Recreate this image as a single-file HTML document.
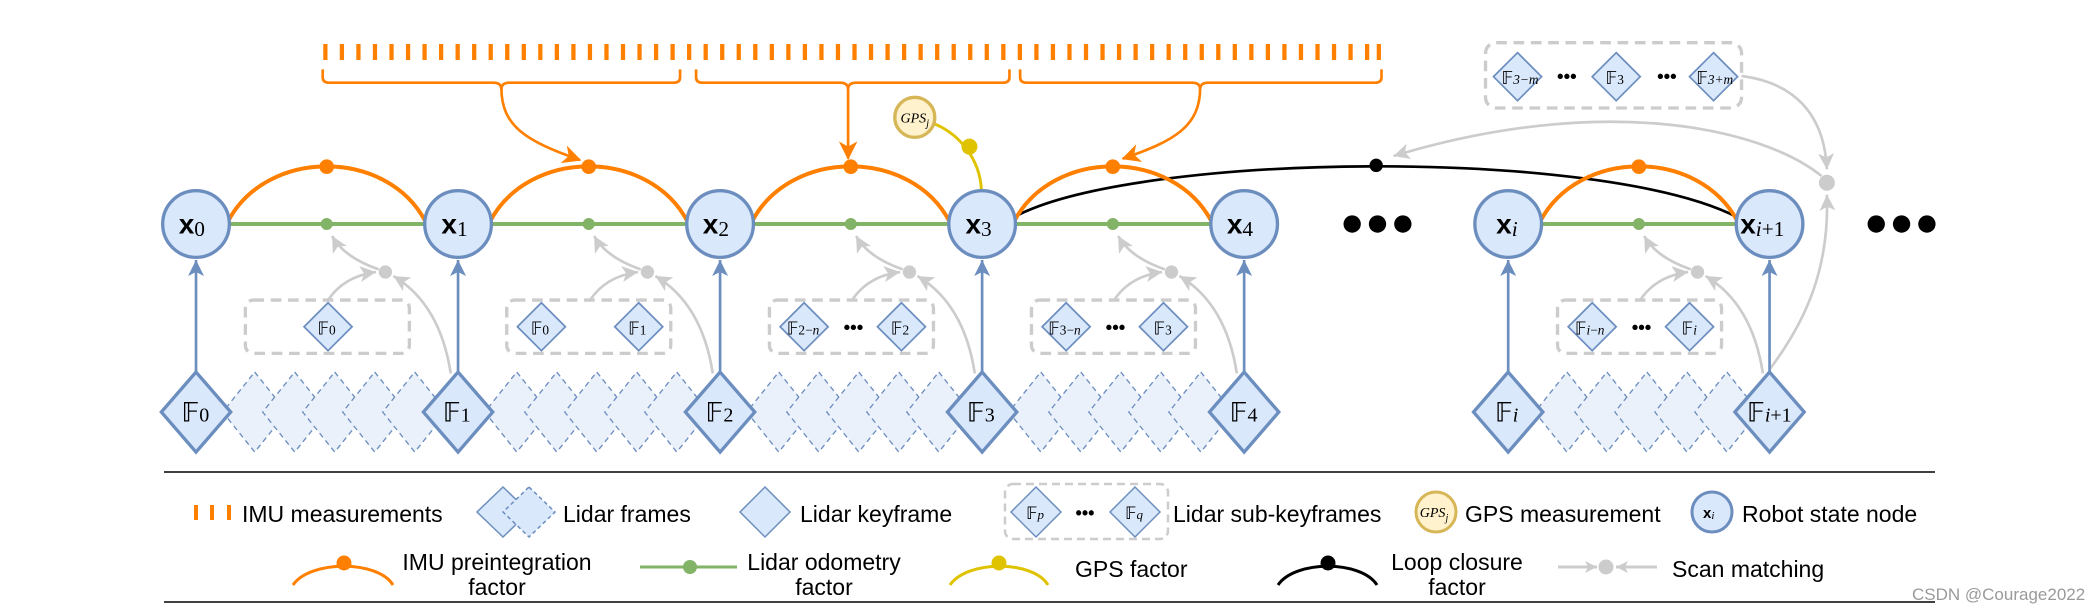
<!DOCTYPE html>
<html><head><meta charset="utf-8"><style>
html,body{margin:0;padding:0;background:#fff;}
svg{display:block;}
text{font-family:"Liberation Sans","DejaVu Sans",sans-serif;}
.ser{font-family:"Liberation Serif","DejaVu Serif",serif;}
.ds{font-family:"DejaVu Sans","Liberation Serif",serif;}
</style></head><body>
<svg width="2091" height="614" viewBox="0 0 2091 614" xmlns="http://www.w3.org/2000/svg">
<defs>
<marker id="ao" markerUnits="userSpaceOnUse" markerWidth="16" markerHeight="14" refX="13" refY="7" orient="auto"><path d="M0,0 L14,7 L0,14 L4,7 Z" fill="#ff8000"/></marker>
<marker id="ab" markerUnits="userSpaceOnUse" markerWidth="14" markerHeight="14" refX="12" refY="6" orient="auto"><path d="M0,0 L12,6 L0,12 L3,6 Z" fill="#6c8ebf"/></marker>
<marker id="ag" markerUnits="userSpaceOnUse" markerWidth="14" markerHeight="14" refX="12" refY="6" orient="auto"><path d="M0,0 L12,6 L0,12 L3,6 Z" fill="#cccccc"/></marker>
<g id="sd"><path d="M0,-30 L24,0 L0,30 L-24,0 Z" fill="#ebf1fb" stroke="#6c8ebf" stroke-width="1" stroke-dasharray="4,3"/></g>
<g id="bd"><path d="M0,-30 L26,0 L0,30 L-26,0 Z" fill="#dae8fc" stroke="#6c8ebf" stroke-width="2.5"/></g>
<g id="sm"><path d="M0,-18 L18,0 L0,18 L-18,0 Z" fill="#dae8fc" stroke="#6c8ebf" stroke-width="1.3"/></g>
</defs>

<g transform="scale(1.3335)">
<!-- IMU ticks -->
<g stroke="#ff8000" stroke-width="3.2">
<path d="M244,33V45 M256.4,33V45 M268.8,33V45 M281.2,33V45 M293.6,33V45 M306,33V45 M318.4,33V45 M330.8,33V45 M343.2,33V45 M355.6,33V45 M368,33V45 M380.4,33V45 M392.8,33V45 M405.2,33V45 M417.6,33V45 M430,33V45 M442.4,33V45 M454.8,33V45 M467.2,33V45 M479.6,33V45 M492,33V45 M504.4,33V45 M516.8,33V45 M529.2,33V45 M541.6,33V45 M554,33V45 M566.4,33V45 M578.8,33V45 M591.2,33V45 M603.6,33V45 M616,33V45 M628.4,33V45 M640.8,33V45 M653.2,33V45 M665.6,33V45 M678,33V45 M690.4,33V45 M702.8,33V45 M715.2,33V45 M727.6,33V45 M740,33V45 M752.4,33V45 M764.8,33V45 M777.2,33V45 M789.6,33V45 M802,33V45 M814.4,33V45 M826.8,33V45 M839.2,33V45 M851.6,33V45 M864,33V45 M876.4,33V45 M888.8,33V45 M901.2,33V45 M913.6,33V45 M926,33V45 M938.4,33V45 M950.8,33V45 M963.2,33V45 M975.6,33V45 M988,33V45 M1000.4,33V45 M1012.8,33V45 M1025.2,33V45 M1034,33V45"/>
</g>
<!-- braces -->
<g fill="none" stroke="#ff8000" stroke-width="2">
<path d="M242,52 V58 Q242,62 247,62 H370 Q376,62 376,67 Q376,62 382,62 H505 Q510,62 510,58 V52"/>
<path d="M522,52 V58 Q522,62 527,62 H630 Q636,62 636,67 Q636,62 642,62 H752 Q757,62 757,58 V52"/>
<path d="M765,52 V58 Q765,62 770,62 H894 Q900,62 900,67 Q900,62 906,62 H1031 Q1036,62 1036,58 V52"/>
<path d="M376,66 C376,95 395,106 435,120" marker-end="url(#ao)"/>
<path d="M636,66 V119" marker-end="url(#ao)"/>
<path d="M900,66 C900,95 880,106 842,119" marker-end="url(#ao)"/>
</g>

<!-- top sub-keyframe box -->
<rect x="1114" y="32" width="192" height="49" rx="8" fill="none" stroke="#cccccc" stroke-width="2.5" stroke-dasharray="8,5"/>
<use href="#sm" x="1138" y="57.5"/><use href="#sm" x="1212" y="57.5"/><use href="#sm" x="1285" y="57.5"/>
<text x="1175" y="62" font-size="14" text-anchor="middle" font-weight="bold">•••</text>
<text x="1250" y="62" font-size="14" text-anchor="middle" font-weight="bold">•••</text>
<text class="ds" x="1126" y="63" font-size="13">𝔽<tspan class="ser" font-style="italic" font-size="10">3−m</tspan></text>
<text class="ds" x="1204" y="63" font-size="13">𝔽<tspan class="ser" font-size="10">3</tspan></text>
<text class="ds" x="1272" y="63" font-size="13">𝔽<tspan class="ser" font-style="italic" font-size="10">3+m</tspan></text>

<!-- grey loop scan matching -->
<g fill="none" stroke="#cccccc" stroke-width="2">
<path d="M1306,57 C1345,62 1368,85 1370,127" marker-end="url(#ag)"/>
<path d="M1327,277 C1355,240 1372,200 1370,146" marker-end="url(#ag)"/>
<path d="M1366,132 C1320,95 1200,70 1045,117" marker-end="url(#ag)"/>
</g>
<circle cx="1370" cy="137" r="6" fill="#cccccc"/>

<!-- light dashed diamonds -->
<g>
<use href="#sd" x="191" y="309"/><use href="#sd" x="221" y="309"/><use href="#sd" x="251" y="309"/><use href="#sd" x="281" y="309"/><use href="#sd" x="311" y="309"/>
<use href="#sd" x="387.5" y="309"/><use href="#sd" x="417.5" y="309"/><use href="#sd" x="447.5" y="309"/><use href="#sd" x="477.5" y="309"/><use href="#sd" x="507.5" y="309"/>
<use href="#sd" x="584" y="309"/><use href="#sd" x="614" y="309"/><use href="#sd" x="644" y="309"/><use href="#sd" x="674" y="309"/><use href="#sd" x="704" y="309"/>
<use href="#sd" x="780.5" y="309"/><use href="#sd" x="810.5" y="309"/><use href="#sd" x="840.5" y="309"/><use href="#sd" x="870.5" y="309"/><use href="#sd" x="900.5" y="309"/>
<use href="#sd" x="1175" y="309"/><use href="#sd" x="1205" y="309"/><use href="#sd" x="1235" y="309"/><use href="#sd" x="1265" y="309"/><use href="#sd" x="1295" y="309"/>
</g>

<!-- scan matching segments -->
<g id="seg0">
<rect x="184" y="225" width="123" height="40" rx="6" fill="none" stroke="#cccccc" stroke-width="2.5" stroke-dasharray="8,5"/>
</g>
<rect x="380" y="225" width="123" height="40" rx="6" fill="none" stroke="#cccccc" stroke-width="2.5" stroke-dasharray="8,5"/>
<rect x="577" y="225" width="123" height="40" rx="6" fill="none" stroke="#cccccc" stroke-width="2.5" stroke-dasharray="8,5"/>
<rect x="773.5" y="225" width="123" height="40" rx="6" fill="none" stroke="#cccccc" stroke-width="2.5" stroke-dasharray="8,5"/>
<rect x="1168" y="225" width="123" height="40" rx="6" fill="none" stroke="#cccccc" stroke-width="2.5" stroke-dasharray="8,5"/>

<g fill="none" stroke="#cccccc" stroke-width="2">
<path d="M284,202 Q258,193 249,177" marker-end="url(#ag)"/>
<path d="M246,225 Q258,207 282,204" marker-end="url(#ag)"/>
<path d="M338,280 Q330,228 295,207" marker-end="url(#ag)"/>
<path d="M480.5,202 Q454.5,193 445.5,177" marker-end="url(#ag)"/>
<path d="M442.5,225 Q454.5,207 478.5,204" marker-end="url(#ag)"/>
<path d="M534.5,280 Q526.5,228 491.5,207" marker-end="url(#ag)"/>
<path d="M677,202 Q651,193 642,177" marker-end="url(#ag)"/>
<path d="M639,225 Q651,207 675,204" marker-end="url(#ag)"/>
<path d="M731,280 Q723,228 688,207" marker-end="url(#ag)"/>
<path d="M873.5,202 Q847.5,193 838.5,177" marker-end="url(#ag)"/>
<path d="M835.5,225 Q847.5,207 871.5,204" marker-end="url(#ag)"/>
<path d="M927.5,280 Q919.5,228 884.5,207" marker-end="url(#ag)"/>
<path d="M1268,202 Q1242,193 1233,177" marker-end="url(#ag)"/>
<path d="M1230,225 Q1242,207 1266,204" marker-end="url(#ag)"/>
<path d="M1322,280 Q1314,228 1279,207" marker-end="url(#ag)"/>
</g>
<g fill="#cccccc">
<circle cx="289" cy="204" r="5"/><circle cx="485.5" cy="204" r="5"/><circle cx="682" cy="204" r="5"/><circle cx="878.5" cy="204" r="5"/><circle cx="1273" cy="204" r="5"/>
</g>

<!-- small diamonds in boxes -->
<use href="#sm" x="246" y="245"/>
<use href="#sm" x="406" y="245"/><use href="#sm" x="479" y="245"/>
<use href="#sm" x="603" y="245"/><use href="#sm" x="676" y="245"/>
<use href="#sm" x="799.5" y="245"/><use href="#sm" x="872.5" y="245"/>
<use href="#sm" x="1194" y="245"/><use href="#sm" x="1267" y="245"/>
<g font-size="14" font-weight="bold" text-anchor="middle">
<text x="640" y="250">•••</text><text x="836.5" y="250">•••</text><text x="1231" y="250">•••</text>
</g>
<g class="ds" font-size="13">
<text x="238" y="251">𝔽<tspan class="ser" font-size="10">0</tspan></text>
<text x="398" y="251">𝔽<tspan class="ser" font-size="10">0</tspan></text>
<text x="471" y="251">𝔽<tspan class="ser" font-size="10">1</tspan></text>
<text x="590" y="251">𝔽<tspan class="ser" font-size="10">2−<tspan font-style="italic">n</tspan></tspan></text>
<text x="668" y="251">𝔽<tspan class="ser" font-size="10">2</tspan></text>
<text x="786" y="251">𝔽<tspan class="ser" font-size="10">3−<tspan font-style="italic">n</tspan></tspan></text>
<text x="865" y="251">𝔽<tspan class="ser" font-size="10">3</tspan></text>
<text x="1181" y="251">𝔽<tspan class="ser" font-size="10"><tspan font-style="italic">i</tspan>−<tspan font-style="italic">n</tspan></tspan></text>
<text x="1261" y="251">𝔽<tspan class="ser" font-style="italic" font-size="10">i</tspan></text>
</g>

<!-- blue arrows -->
<g stroke="#6c8ebf" stroke-width="2" fill="none">
<path d="M147,279 V195" marker-end="url(#ab)"/>
<path d="M343.5,279 V195" marker-end="url(#ab)"/>
<path d="M540,279 V195" marker-end="url(#ab)"/>
<path d="M736.5,279 V195" marker-end="url(#ab)"/>
<path d="M933,279 V195" marker-end="url(#ab)"/>
<path d="M1131,279 V195" marker-end="url(#ab)"/>
<path d="M1327,279 V195" marker-end="url(#ab)"/>
</g>

<!-- big diamonds -->
<use href="#bd" x="147" y="309"/><use href="#bd" x="343.5" y="309"/><use href="#bd" x="540" y="309"/><use href="#bd" x="736.5" y="309"/><use href="#bd" x="933" y="309"/><use href="#bd" x="1131" y="309"/><use href="#bd" x="1327" y="309"/>
<g class="ds" font-size="20">
<text x="136" y="316">𝔽<tspan class="ser" font-size="15">0</tspan></text>
<text x="332" y="316">𝔽<tspan class="ser" font-size="15">1</tspan></text>
<text x="529" y="316">𝔽<tspan class="ser" font-size="15">2</tspan></text>
<text x="725" y="316">𝔽<tspan class="ser" font-size="15">3</tspan></text>
<text x="922" y="316">𝔽<tspan class="ser" font-size="15">4</tspan></text>
<text x="1121" y="316">𝔽<tspan class="ser" font-style="italic" font-size="15">i</tspan></text>
<text x="1310" y="316">𝔽<tspan class="ser" font-size="15"><tspan font-style="italic">i</tspan>+1</tspan></text>
</g>

<!-- green odometry -->
<g stroke="#82b366" stroke-width="3">
<path d="M172,168 H909"/><path d="M1156,168 H1302"/>
</g>
<g fill="#82b366">
<circle cx="245" cy="168" r="4.5"/><circle cx="441.5" cy="168" r="4.5"/><circle cx="638" cy="168" r="4.5"/><circle cx="834.5" cy="168" r="4.5"/><circle cx="1229" cy="168" r="4.5"/>
</g>

<!-- black loop closure -->
<path d="M760,163 C850,114 1200,110 1303,163" fill="none" stroke="#000" stroke-width="2"/>
<circle cx="1032" cy="124" r="5" fill="#000"/>

<!-- orange arcs -->
<g fill="none" stroke="#ff8000" stroke-width="3">
<path d="M171,166 C200,111 290,111 319,166"/>
<path d="M367.5,166 C396.5,111 486.5,111 515.5,166"/>
<path d="M564,166 C593,111 683,111 712,166"/>
<path d="M760.5,166 C789.5,111 879.5,111 908.5,166"/>
<path d="M1155,166 C1184,111 1274,111 1303,166"/>
</g>
<g fill="#ff8000">
<circle cx="245" cy="125" r="5.5"/><circle cx="441.5" cy="125" r="5.5"/><circle cx="638" cy="125" r="5.5"/><circle cx="834.5" cy="125" r="5.5"/><circle cx="1229" cy="125" r="5.5"/>
</g>

<!-- GPS -->
<path d="M701,93 C718,100 735,118 736,143" fill="none" stroke="#e0c300" stroke-width="2.2"/>
<circle cx="727" cy="110" r="6" fill="#e0c300"/>
<circle cx="686" cy="88" r="15" fill="#fff2cc" stroke="#d6b656" stroke-width="2.5"/>
<text class="ser" x="686" y="92" font-size="10.5" font-style="italic" text-anchor="middle">GPS<tspan font-size="8" dy="3">j</tspan></text>

<!-- nodes -->
<g fill="#dae8fc" stroke="#6c8ebf" stroke-width="2.5">
<circle cx="147" cy="168" r="25"/><circle cx="343.5" cy="168" r="25"/><circle cx="540" cy="168" r="25"/><circle cx="736.5" cy="168" r="25"/><circle cx="933" cy="168" r="25"/><circle cx="1131" cy="168" r="25"/><circle cx="1327" cy="168" r="25"/>
</g>
<g font-size="21" font-weight="bold">
<text x="134" y="175">x<tspan class="ser" font-weight="normal" font-size="16" dy="2">0</tspan></text>
<text x="331" y="175">x<tspan class="ser" font-weight="normal" font-size="16" dy="2">1</tspan></text>
<text x="527" y="175">x<tspan class="ser" font-weight="normal" font-size="16" dy="2">2</tspan></text>
<text x="724" y="175">x<tspan class="ser" font-weight="normal" font-size="16" dy="2">3</tspan></text>
<text x="920" y="175">x<tspan class="ser" font-weight="normal" font-size="16" dy="2">4</tspan></text>
<text x="1122" y="175">x<tspan class="ser" font-weight="normal" font-style="italic" font-size="16" dy="2">i</tspan></text>
<text x="1305" y="175">x<tspan class="ser" font-weight="normal" font-size="16" dy="2"><tspan font-style="italic">i</tspan>+1</tspan></text>
</g>
<g fill="#000">
<circle cx="1014" cy="168" r="6.5"/><circle cx="1033" cy="168" r="6.5"/><circle cx="1052" cy="168" r="6.5"/>
<circle cx="1407" cy="168" r="6.5"/><circle cx="1426" cy="168" r="6.5"/><circle cx="1445" cy="168" r="6.5"/>
</g>
</g>

<!-- Legend (original px) -->
<path d="M164,472 H1935 M164,602 H1935" stroke="#000" stroke-width="1.5"/>
<g stroke="#ff8000" stroke-width="4"><path d="M196,505V520 M212,505V520 M229,505V520"/></g>
<g font-size="23" fill="#000">
<text x="242" y="522">IMU measurements</text>
<text x="563" y="522">Lidar frames</text>
<text x="800" y="522">Lidar keyframe</text>
<text x="1173" y="522">Lidar sub-keyframes</text>
<text x="1465" y="522">GPS measurement</text>
<text x="1742" y="522">Robot state node</text>
<text x="497" y="570" text-anchor="middle">IMU preintegration</text>
<text x="497" y="595" text-anchor="middle">factor</text>
<text x="824" y="570" text-anchor="middle">Lidar odometry</text>
<text x="824" y="595" text-anchor="middle">factor</text>
<text x="1075" y="577">GPS factor</text>
<text x="1457" y="570" text-anchor="middle">Loop closure</text>
<text x="1457" y="595" text-anchor="middle">factor</text>
<text x="1672" y="577">Scan matching</text>
</g>
<path d="M503,487 L529,512 L503,537 L477,512 Z" fill="#dae8fc" stroke="#6c8ebf" stroke-width="1.5"/>
<path d="M529,487 L555,512 L529,537 L503,512 Z" fill="#dae8fc" stroke="#6c8ebf" stroke-width="1.5" stroke-dasharray="4,3"/>
<path d="M765,487 L790,512 L765,537 L740,512 Z" fill="#dae8fc" stroke="#6c8ebf" stroke-width="1.5"/>
<rect x="1005" y="484" width="163" height="55" rx="8" fill="none" stroke="#cccccc" stroke-width="2.5" stroke-dasharray="8,5"/>
<path d="M1036,487 L1061,512 L1036,537 L1011,512 Z" fill="#dae8fc" stroke="#6c8ebf" stroke-width="1.5"/>
<path d="M1135,487 L1160,512 L1135,537 L1110,512 Z" fill="#dae8fc" stroke="#6c8ebf" stroke-width="1.5"/>
<text x="1085" y="519" font-size="18" font-weight="bold" text-anchor="middle">•••</text>
<text class="ds" x="1026" y="519" font-size="17">𝔽<tspan class="ser" font-style="italic" font-size="13">p</tspan></text>
<text class="ds" x="1125" y="519" font-size="17">𝔽<tspan class="ser" font-style="italic" font-size="13">q</tspan></text>
<circle cx="1436" cy="512" r="20" fill="#fff2cc" stroke="#d6b656" stroke-width="3"/>
<text class="ser" x="1434" y="517" font-size="14" font-style="italic" text-anchor="middle">GPS<tspan font-size="10" dy="4">j</tspan></text>
<circle cx="1712" cy="512" r="20" fill="#dae8fc" stroke="#6c8ebf" stroke-width="3"/>
<text x="1703" y="518" font-size="15" font-weight="bold">x<tspan class="ser" font-weight="normal" font-style="italic" font-size="11" dy="1">i</tspan></text>
<path d="M293,585 C310,560 378,560 393,585" fill="none" stroke="#ff8000" stroke-width="3"/>
<circle cx="344" cy="563" r="7.5" fill="#ff8000"/>
<path d="M640,567 H737" stroke="#82b366" stroke-width="3"/>
<circle cx="690" cy="567" r="7" fill="#82b366"/>
<path d="M950,585 C967,560 1033,560 1048,585" fill="none" stroke="#e0c300" stroke-width="3"/>
<circle cx="999" cy="563" r="7.5" fill="#e0c300"/>
<path d="M1278,585 C1295,560 1361,560 1377,585" fill="none" stroke="#000" stroke-width="3"/>
<circle cx="1328" cy="563" r="7.5" fill="#000"/>
<g stroke="#cccccc" stroke-width="3" fill="none">
<path d="M1558,567 H1597" marker-end="url(#ag)"/>
<path d="M1657,567 H1616" marker-end="url(#ag)"/>
</g>
<circle cx="1606" cy="567" r="7.5" fill="#cccccc"/>
<text x="1912" y="600" font-size="17" fill="#9a9a9a">CSDN @Courage2022</text>
</svg>
</body></html>
